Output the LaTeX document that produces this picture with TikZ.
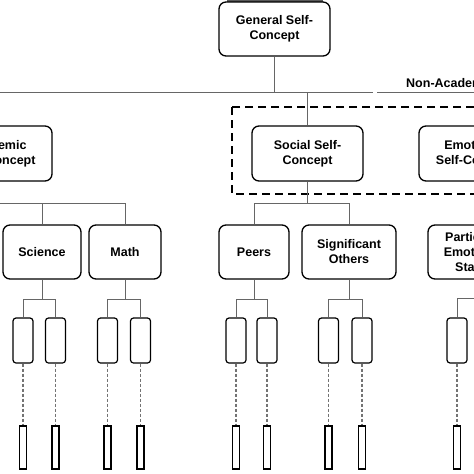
\documentclass[tikz,border=0pt]{standalone}
\usepackage{fontspec}
\setmainfont{Liberation Sans}
\begin{document}
\begin{tikzpicture}[x=1pt,y=-1pt,
 box/.style={draw=black, line width=1.3pt, rounded corners=7pt, align=center,
   font=\bfseries\fontsize{12.5}{15}\selectfont, inner sep=0pt, fill=white},
 leaf/.style={draw=black, line width=1.2pt, rounded corners=3pt, minimum width=20pt, minimum height=45pt, inner sep=0pt},
 bar/.style={draw=black, line width=1.2pt, minimum width=7pt, minimum height=43pt, inner sep=0pt},
 conn/.style={draw=black!60, line width=1pt},
 dotl/.style={draw=black!55, line width=1.2pt, dash pattern=on 3pt off 2pt},
 group/.style={draw=black, line width=1.4pt, dash pattern=on 8pt off 5pt},
 lbl/.style={font=\bfseries\fontsize{12.5}{15}\selectfont, inner sep=0pt}]
\useasboundingbox (0,0) rectangle (474,474);
\clip (0,0) rectangle (474,474);

% top bar remnant
\fill[black!65] (227,0) rectangle (323,2.5);

% group frame
\draw[group] (232,107) rectangle (500,194);

% main boxes
\node[box, minimum width=111pt, minimum height=54pt] (gen) at (274.5,29) {General Self-\\Concept};
\node[box, minimum width=110pt, minimum height=55pt] (acad) at (-3,153.5) {Academic\\Self-Concept};
\node[box, minimum width=111pt, minimum height=55pt] (soc) at (307.5,153.5) {Social Self-\\Concept};
\node[box, minimum width=111pt, minimum height=55pt] (emo) at (474.5,153.5) {Emotional\\Self-Concept};

\node[box, minimum width=78pt, minimum height=54pt] (sci) at (42,252) {Science};
\node[box, minimum width=72pt, minimum height=54pt] (math) at (125,252) {Math};
\node[box, minimum width=70pt, minimum height=54pt] (peers) at (254,252) {Peers};
\node[box, minimum width=94pt, minimum height=54pt] (sig) at (349,252) {Significant\\Others};
\node[box, minimum width=92pt, minimum height=54pt] (part) at (474,252) {Particular\\Emotional\\States};

% label
\node[lbl, anchor=base west] (nonac) at (406,87) {Non-Academic Self-Concept};

% top connectors
\coordinate (hl) at (0,92);
\coordinate (hr) at (373,92);
\coordinate (hl2) at (377,92);
\coordinate (hr2) at (474,92);
\draw[conn] (hl) -- (hr);
\draw[conn] (hl2) -- (hr2);
\draw[conn] (gen.south) -- (gen.south |- hl);
\draw[conn] (soc.north) -- (soc.north |- hl);

% second level connectors
\draw[conn] (acad.south) |- (math.north |- 0,203) -- (math.north);
\draw[conn] (sci.north) -- (sci.north |- 0,203);
\draw[conn] (soc.south) -- (soc.south |- 0,203);
\draw[conn] (peers.north) |- (sig.north |- 0,203) -- (sig.north);

% leaves
\foreach \i/\x in {1/23,2/55.5,3/107.5,4/140.5,5/236,6/267,7/328.5,8/362,9/457}{
  \node[leaf] (l\i) at (\x,340.5) {};
  \node[bar] (b\i) at (\x,447.5) {};
  \draw[dotl] (l\i.south) -- (b\i.north);
}

% leaf brackets
\draw[conn] (sci.south) -- (sci.south |- 0,299);
\draw[conn] (l1.north) |- (l2.north |- 0,299) -- (l2.north);
\draw[conn] (math.south) -- (math.south |- 0,299);
\draw[conn] (l3.north) |- (l4.north |- 0,299) -- (l4.north);
\draw[conn] (peers.south) -- (peers.south |- 0,299);
\draw[conn] (l5.north) |- (l6.north |- 0,299) -- (l6.north);
\draw[conn] (sig.south) -- (sig.south |- 0,299);
\draw[conn] (l7.north) |- (l8.north |- 0,299) -- (l8.north);
\coordinate (pr) at (480,298);
\draw[conn] (l9.north) |- (pr);
\end{tikzpicture}
\end{document}
